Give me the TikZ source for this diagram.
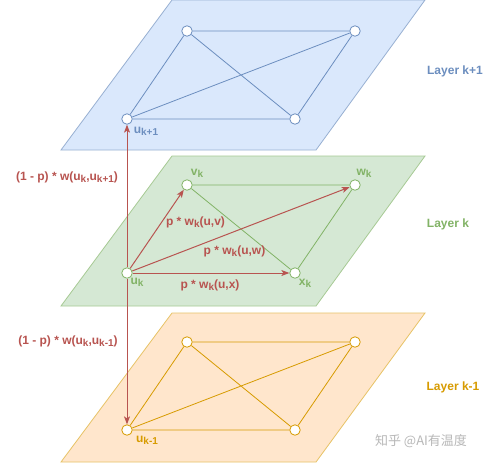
\documentclass[tikz,border=0pt]{standalone}
\usepackage{fontspec}
\setmainfont{Liberation Sans}
\newfontfamily\cjkfont{Noto Sans CJK SC}
\usetikzlibrary{arrows.meta}
\definecolor{bfill}{HTML}{DAE8FC}\definecolor{bline}{HTML}{6C8EBF}
\definecolor{gfill}{HTML}{D5E8D4}\definecolor{gline}{HTML}{82B366}
\definecolor{ofill}{HTML}{FFE6CC}\definecolor{oline}{HTML}{D79B00}
\definecolor{rline}{HTML}{B85450}
\newcommand{\lsub}[1]{\raisebox{-0.3ex}{\fontsize{10}{10}\selectfont #1}}
\tikzset{
  vtx/.style={circle,draw,fill=white,inner sep=0pt,minimum size=10.5pt,line width=0.8pt},
  lbl/.style={font=\fontsize{12}{14}\selectfont\bfseries,inner sep=0pt,anchor=center},
  plane/.style={line width=0.8pt},
  ledge/.style={line width=0.8pt},
  redge/.style={draw=rline,line width=1pt,-{Stealth[length=8pt,width=6pt,inset=2pt]}},
}
\begin{document}
\begin{tikzpicture}[x=1pt,y=-1pt]
\useasboundingbox[fill=white] (0,0) rectangle (486,463);
% planes
\filldraw[plane,fill=bfill,draw=bline!70] (61,150) -- (316,150) -- (425,0) -- (172,0) -- cycle;
\filldraw[plane,fill=gfill,draw=gline!70] (61,306) -- (316,306) -- (425,156) -- (172,156) -- cycle;
\filldraw[plane,fill=ofill,draw=oline!60] (61,462) -- (316,462) -- (425,313) -- (172,313) -- cycle;
% blue layer
\node[vtx,draw=bline] (b1) at (187,31) {};
\node[vtx,draw=bline] (b2) at (355,31) {};
\node[vtx,draw=bline] (ukp1) at (127,119) {};
\node[vtx,draw=bline] (b4) at (295,119) {};
% green layer
\node[vtx,draw=gline] (vk) at (187,185) {};
\node[vtx,draw=gline] (wk) at (355,185) {};
\node[vtx,draw=gline] (uk) at (127,273) {};
\node[vtx,draw=gline] (xk) at (295,273) {};
% orange layer
\node[vtx,draw=oline] (o1) at (187,342) {};
\node[vtx,draw=oline] (o2) at (355,342) {};
\node[vtx,draw=oline] (ukm1) at (127,430) {};
\node[vtx,draw=oline] (o4) at (295,430) {};
% blue edges
\draw[ledge,bline] (b1) -- (b2) (b1) -- (ukp1) (b1) -- (b4) (b2) -- (ukp1) (b2) -- (b4) (ukp1) -- (b4);
% green edges
\draw[ledge,gline] (vk) -- (wk) (vk) -- (xk) (wk) -- (xk);
% orange edges
\draw[ledge,oline] (o1) -- (o2) (o1) -- (ukm1) (o1) -- (o4) (o2) -- (ukm1) (o2) -- (o4) (ukm1) -- (o4);
% red arrows
\draw[redge] (uk) -- (vk);
\draw[redge] (uk) -- (wk);
\draw[redge] (uk) -- (xk);
\draw[redge] (uk) -- (ukp1);
\draw[redge] (uk) -- (ukm1);
% node labels
\node[lbl,text=bline] (lukp1) at (146,131) {u\lsub{k+1}};
\node[lbl,text=gline] (lvk) at (197,173) {v\lsub{k}};
\node[lbl,text=gline] (lwk) at (364,173) {w\lsub{k}};
\node[lbl,text=gline] (luk) at (137,282) {u\lsub{k}};
\node[lbl,text=gline] (lxk) at (305,283) {x\lsub{k}};
\node[lbl,text=oline] (lukm1) at (147,440) {u\lsub{k-1}};
% edge labels
\node[lbl,text=rline] (e1) at (67,177) {(1 - p) * w(u\lsub{k},u\lsub{k+1})};
\node[lbl,text=rline] (e2) at (68,341) {(1 - p) * w(u\lsub{k},u\lsub{k-1})};
\node[lbl,text=rline] (e3) at (195.5,222) {p * w\lsub{k}(u,v)};
\node[lbl,text=rline] (e4) at (234.5,251) {p * w\lsub{k}(u,w)};
\node[lbl,text=rline] (e5) at (210,285) {p * w\lsub{k}(u,x)};
% layer labels
\node[lbl,text=bline] (L1) at (455,71) {Layer k+1};
\node[lbl,text=gline] (L2) at (448,224) {Layer k};
\node[lbl,text=oline] (L3) at (453,387) {Layer k-1};
% watermark
\node[inner sep=0pt,text=black!28,font=\cjkfont\fontsize{13}{15}\selectfont] (wm) at (421,441) {知乎 @AI有温度};
\end{tikzpicture}
\end{document}
